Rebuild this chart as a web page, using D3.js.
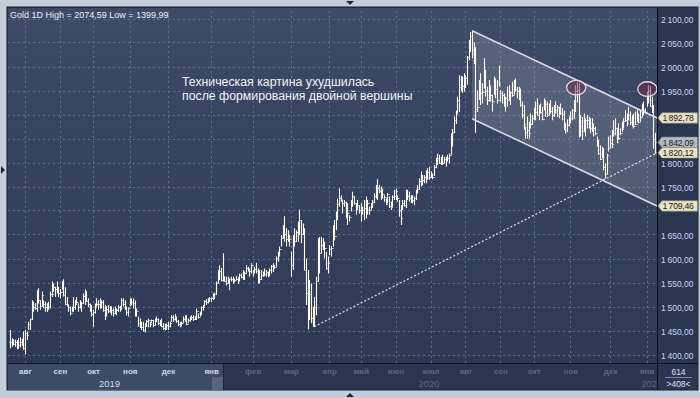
<!DOCTYPE html>
<html>
<head>
<meta charset="utf-8">
<script src="https://cdn.jsdelivr.net/npm/d3@7"></script>
<style>
  html, body { margin: 0; padding: 0; background: #c4cedb; }
  svg { display: block; }
  text { font-family: "Liberation Sans", Arial, sans-serif; }
</style>
</head>
<body>
<script>
// time axis: one entry per month, first one is the partial July 2019
const monthNames = ['июл', 'авг', 'сен', 'окт', 'ноя', 'дек', 'янв', 'фев', 'мар', 'апр',
  'май', 'июн', 'июл', 'авг', 'сен', 'окт', 'ноя', 'дек', 'янв'];
const monthYears = [2019, 2019, 2019, 2019, 2019, 2019, 2020, 2020, 2020, 2020,
  2020, 2020, 2020, 2020, 2020, 2020, 2020, 2020, 2021];
const monthBars = [9, 21, 20, 22, 23, 26, 25, 23, 23, 19, 21, 21, 21, 21, 20, 22, 24, 22, 6];

// daily bars, Gold 1D
const highs = [
  1451, 1434, 1432, 1431, 1430, 1434, 1436, 1433, 1448,
  1451, 1448, 1468, 1475, 1513, 1510, 1507, 1534, 1538, 1513, 1531, 1513, 1510, 1507, 1510, 1531, 1552, 1548, 1541, 1552, 1540,
  1536, 1552, 1557, 1540, 1520, 1503, 1500, 1500, 1520, 1513, 1520, 1506, 1513, 1510, 1527, 1536, 1531, 1517, 1506, 1503,
  1493, 1506, 1517, 1513, 1517, 1513, 1513, 1503, 1500, 1503, 1501, 1500, 1496, 1500, 1496, 1503, 1501, 1517, 1517, 1513, 1500, 1498,
  1517, 1517, 1517, 1513, 1496, 1479, 1475, 1468, 1468, 1465, 1472, 1475, 1468, 1473, 1472, 1475, 1479, 1475, 1472, 1475, 1465, 1464, 1465,
  1468, 1468, 1482, 1482, 1484, 1479, 1472, 1468, 1468, 1479, 1482, 1482, 1475, 1479, 1482, 1482, 1480, 1496, 1486, 1489, 1500, 1503, 1513, 1515, 1517, 1520,
  1519, 1527, 1529, 1552, 1576, 1586, 1580, 1611, 1563, 1562, 1562, 1559, 1562, 1562, 1559, 1564, 1561, 1569, 1569, 1576, 1573, 1586, 1583, 1579, 1590,
  1576, 1583, 1591, 1579, 1576, 1576, 1573, 1579, 1576, 1573, 1579, 1586, 1590, 1586, 1604, 1614, 1625, 1649, 1670, 1688, 1663, 1659, 1649,
  1614, 1649, 1663, 1659, 1677, 1702, 1680, 1673, 1663, 1600, 1576, 1555, 1548, 1500, 1520, 1562, 1642, 1645, 1645, 1642, 1635, 1614, 1604,
  1628, 1626, 1670, 1680, 1698, 1725, 1746, 1732, 1723, 1722, 1718, 1715, 1690, 1722, 1739, 1729, 1715, 1722, 1711,
  1715, 1708, 1722, 1729, 1722, 1708, 1715, 1722, 1736, 1753, 1765, 1753, 1750, 1746, 1732, 1725, 1736, 1729, 1718, 1732, 1743,
  1746, 1732, 1722, 1711, 1722, 1722, 1743, 1743, 1739, 1732, 1732, 1729, 1743, 1753, 1767, 1781, 1774, 1774, 1784, 1788, 1791,
  1781, 1777, 1795, 1810, 1818, 1816, 1812, 1816, 1812, 1812, 1816, 1819, 1861, 1870, 1896, 1908, 1937, 1982, 1980, 1979, 1986,
  1982, 2022, 2055, 2072, 2074.59, 2050, 2040, 1950, 1972, 1986, 1965, 2017, 1993, 1958, 1972, 1961, 1941, 1979, 1975, 1972, 2002,
  1951, 1948, 1944, 1937, 1958, 1961, 1948, 1968, 1972, 1975, 1958, 1958, 1954, 1927, 1920, 1875, 1896, 1885, 1902, 1899,
  1913, 1927, 1934, 1920, 1923, 1916, 1934, 1930, 1927, 1923, 1930, 1916, 1920, 1927, 1920, 1916, 1923, 1913, 1908, 1882, 1890, 1896,
  1906, 1911, 1930, 1961, 1966, 1965, 1899, 1895, 1902, 1892, 1899, 1895, 1892, 1892, 1882, 1875, 1854, 1847, 1836, 1833, 1830, 1798, 1818, 1854,
  1857, 1868, 1888, 1892, 1871, 1882, 1871, 1885, 1892, 1909, 1902, 1916, 1906, 1899, 1902, 1906, 1913, 1902, 1909, 1923, 1927, 1913,
  1948, 1961, 1959, 1937, 1920, 1862
];
const lows = [
  1413, 1416, 1420, 1416, 1411, 1413, 1415, 1418, 1410,
  1399.99, 1430, 1451, 1451, 1472, 1489, 1493, 1489, 1506, 1493, 1500, 1496, 1489, 1489, 1493, 1496, 1520, 1531, 1520, 1527, 1520,
  1517, 1535, 1521, 1503, 1500, 1489, 1482, 1489, 1489, 1493, 1503, 1489, 1496, 1489, 1506, 1503, 1510, 1499, 1489, 1479,
  1458, 1485, 1500, 1493, 1496, 1496, 1489, 1472, 1479, 1486, 1487, 1482, 1479, 1484, 1482, 1489, 1489, 1493, 1500, 1493, 1482, 1479,
  1500, 1503, 1496, 1479, 1479, 1458, 1455, 1451, 1448, 1446, 1458, 1457, 1457, 1465, 1457, 1461, 1468, 1461, 1459, 1457, 1451, 1450, 1451,
  1451, 1457, 1468, 1468, 1471, 1466, 1459, 1457, 1459, 1466, 1468, 1461, 1465, 1468, 1472, 1470, 1472, 1472, 1475, 1479, 1482, 1491, 1500, 1503, 1506, 1510,
  1510, 1513, 1515, 1524, 1548, 1555, 1552, 1552, 1552, 1544, 1548, 1534, 1552, 1548, 1550, 1555, 1547, 1552, 1559, 1555, 1555, 1569, 1573, 1562, 1569,
  1563, 1569, 1569, 1548, 1548, 1555, 1562, 1563, 1562, 1561, 1563, 1569, 1572, 1579, 1583, 1593, 1604, 1625, 1642, 1635, 1625, 1635, 1625,
  1562, 1576, 1625, 1635, 1635, 1649, 1632, 1649, 1576, 1503, 1452, 1472, 1465, 1458, 1458, 1482, 1552, 1569, 1611, 1618, 1600, 1576, 1569,
  1607, 1604, 1625, 1638, 1659, 1680, 1708, 1718, 1694, 1708, 1684, 1670, 1677, 1698, 1708, 1712, 1691, 1701, 1694,
  1677, 1691, 1680, 1684, 1691, 1691, 1701, 1705, 1715, 1725, 1722, 1736, 1722, 1725, 1718, 1711, 1715, 1705, 1701, 1708, 1722,
  1722, 1718, 1687, 1670, 1701, 1708, 1705, 1722, 1718, 1715, 1715, 1711, 1722, 1736, 1743, 1750, 1753, 1757, 1757, 1764, 1764,
  1768, 1765, 1772, 1788, 1795, 1798, 1795, 1795, 1798, 1791, 1802, 1798, 1816, 1833, 1861, 1880, 1902, 1905, 1948, 1945, 1948,
  1955, 1962, 2013, 2030, 2017, 2005, 1862, 1905, 1930, 1920, 1923, 1954, 1937, 1920, 1927, 1927, 1906, 1941, 1934, 1923, 1958,
  1927, 1923, 1916, 1906, 1916, 1930, 1920, 1937, 1941, 1948, 1934, 1930, 1916, 1892, 1868, 1850, 1850, 1850, 1871, 1878,
  1888, 1888, 1899, 1888, 1902, 1888, 1909, 1895, 1895, 1899, 1902, 1888, 1895, 1902, 1895, 1892, 1899, 1888, 1868, 1860, 1863, 1875,
  1882, 1888, 1890, 1905, 1925, 1852, 1854, 1847, 1864, 1854, 1871, 1871, 1861, 1864, 1854, 1857, 1833, 1816, 1805, 1809, 1784, 1766, 1776, 1823,
  1830, 1830, 1854, 1857, 1840, 1847, 1857, 1864, 1871, 1885, 1875, 1888, 1878, 1875, 1871, 1878, 1885, 1882, 1885, 1895, 1899, 1902,
  1916, 1923, 1916, 1903, 1828, 1818
];
const closes = [
  1426, 1424, 1422, 1427, 1414, 1419, 1427, 1430, 1413,
  1445, 1440, 1464, 1474, 1499, 1500, 1497, 1511, 1514, 1502, 1523, 1505, 1500, 1496, 1502, 1527, 1526, 1541, 1537, 1540, 1528,
  1530, 1548, 1525, 1506, 1506, 1499, 1486, 1497, 1498, 1506, 1510, 1498, 1505, 1508, 1522, 1532, 1512, 1505, 1497, 1485,
  1489, 1500, 1505, 1505, 1503, 1510, 1493, 1488, 1494, 1490, 1494, 1492, 1487, 1495, 1492, 1500, 1495, 1513, 1505, 1496, 1488, 1496,
  1513, 1510, 1508, 1483, 1490, 1466, 1460, 1457, 1452, 1461, 1469, 1472, 1463, 1471, 1461, 1470, 1473, 1465, 1462, 1460, 1455, 1458, 1462,
  1460, 1465, 1478, 1474, 1476, 1470, 1463, 1460, 1465, 1475, 1471, 1464, 1472, 1475, 1478, 1474, 1476, 1490, 1479, 1484, 1498, 1499, 1511, 1510, 1514, 1517,
  1517, 1524, 1527, 1549, 1568, 1574, 1556, 1556, 1554, 1550, 1552, 1557, 1558, 1553, 1556, 1558, 1555, 1565, 1562, 1570, 1570, 1580, 1577, 1575, 1587,
  1574, 1578, 1575, 1553, 1557, 1565, 1570, 1567, 1572, 1566, 1576, 1584, 1580, 1583, 1602, 1611, 1620, 1643, 1658, 1650, 1640, 1643, 1640,
  1586, 1640, 1637, 1655, 1672, 1680, 1650, 1660, 1577, 1529, 1515, 1527, 1477, 1471, 1498, 1553, 1609, 1611, 1629, 1620, 1622, 1580, 1591,
  1620, 1622, 1662, 1647, 1682, 1714, 1727, 1722, 1716, 1717, 1688, 1694, 1686, 1713, 1730, 1715, 1705, 1712, 1700,
  1700, 1702, 1705, 1708, 1715, 1702, 1710, 1718, 1731, 1742, 1747, 1740, 1745, 1734, 1728, 1714, 1734, 1710, 1708, 1728, 1730,
  1740, 1726, 1700, 1685, 1715, 1712, 1738, 1730, 1727, 1725, 1722, 1727, 1741, 1745, 1762, 1768, 1764, 1770, 1771, 1780, 1770,
  1775, 1770, 1790, 1800, 1810, 1800, 1808, 1799, 1808, 1806, 1810, 1815, 1842, 1864, 1889, 1902, 1930, 1958, 1970, 1960, 1975,
  1976, 2019, 2039, 2063, 2035, 2028, 1911, 1915, 1954, 1944, 1947, 2000, 1950, 1930, 1946, 1940, 1928, 1950, 1954, 1930, 1964,
  1945, 1940, 1930, 1934, 1930, 1947, 1946, 1940, 1956, 1954, 1950, 1944, 1920, 1900, 1880, 1863, 1868, 1862, 1880, 1892,
  1900, 1906, 1900, 1913, 1905, 1890, 1930, 1922, 1900, 1905, 1908, 1899, 1905, 1910, 1915, 1905, 1903, 1902, 1878, 1868, 1879, 1885,
  1893, 1909, 1920, 1949, 1951, 1862, 1877, 1866, 1873, 1888, 1888, 1880, 1871, 1866, 1871, 1862, 1837, 1820, 1808, 1812, 1790, 1776, 1815, 1830,
  1841, 1839, 1862, 1871, 1842, 1852, 1862, 1870, 1887, 1888, 1882, 1900, 1885, 1880, 1876, 1881, 1890, 1885, 1895, 1905, 1910, 1906,
  1943, 1950, 1918, 1913, 1849, 1842.09
];

const priceTicks = [1400, 1450, 1500, 1550, 1600, 1650, 1700, 1750, 1800, 1850, 1900, 1950, 2000, 2050, 2100];

// drawn objects (bar index, price)
const channelFrom = 278;
const channelUpper = [2074.59, 1892.78];   // at channelFrom, at right edge
const channelLower = [1891.27, 1709.46];
const trendFrom = 183;
const trendLine = [1458, 1820.12];
const lastPrice = 1842.09;
const topMarks = [[340.6, 1956], [383.4, 1953]];
const noteLines = ['Техническая картина ухудшилась', 'после формирования двойной вершины'];

const W = 700, H = 398;
const plot = { left: 8, right: 657, top: 8, bottom: 363 };
const axisBottomY = 390;
const splitX = 223.5;

const x = d3.scaleLinear().domain([0, highs.length - 1]).range([10, 655]);
const y = d3.scaleLinear().domain([1400, 2100]).range([354.5, 18.5]);
const edge = x.invert(plot.right);

const starts = [0, ...d3.cumsum(monthBars)].slice(0, monthBars.length);
const fmt = d3.formatLocale({ decimal: ',', thousands: '\u2009', grouping: [3], currency: ['', ''] }).format(',.2f');

const svg = d3.select('body').append('svg')
  .attr('width', W)
  .attr('height', H);

// little arrows on the window frame
svg.append('path').attr('d', 'M346,1L354,1L350,5Z').attr('fill', '#1d2535');
svg.append('path').attr('d', 'M346,397L354,397L350,393Z').attr('fill', '#1d2535');
svg.append('path').attr('d', 'M1,166L1,174L5,170Z').attr('fill', '#1d2535');

svg.append('rect')
  .attr('x', 7).attr('y', 7)
  .attr('width', 691).attr('height', axisBottomY - 7)
  .attr('fill', '#2a3550')
  .attr('stroke', '#1a2030');

const defs = svg.append('defs');
const grad = defs.append('linearGradient').attr('id', 'bg')
  .attr('x1', 0).attr('y1', 0).attr('x2', 0).attr('y2', 1);
grad.append('stop').attr('offset', '0%').attr('stop-color', '#3d4a68');
grad.append('stop').attr('offset', '100%').attr('stop-color', '#2d3955');

defs.append('clipPath').attr('id', 'plotClip').append('rect')
  .attr('x', plot.left).attr('y', plot.top)
  .attr('width', plot.right - plot.left).attr('height', plot.bottom - plot.top);
defs.append('clipPath').attr('id', 'axisClip').append('rect')
  .attr('x', plot.left).attr('y', plot.bottom)
  .attr('width', plot.right - plot.left).attr('height', axisBottomY - plot.bottom);

svg.append('rect')
  .attr('x', plot.left).attr('y', plot.top)
  .attr('width', plot.right - plot.left).attr('height', plot.bottom - plot.top)
  .attr('fill', 'url(#bg)');

const g = svg.append('g').attr('clip-path', 'url(#plotClip)');

// grid
const hGrid = g.append('g')
  .attr('transform', `translate(${plot.left},0)`)
  .call(d3.axisLeft(y).tickValues(priceTicks).tickSize(-(plot.right - plot.left)).tickFormat(''));
const vGrid = g.append('g')
  .attr('transform', `translate(0,${plot.bottom})`)
  .call(d3.axisBottom(x).tickValues(starts.slice(1)).tickSize(-(plot.bottom - plot.top)).tickFormat(''));
[hGrid, vGrid].forEach(a => {
  a.select('.domain').remove();
  a.selectAll('line')
    .attr('stroke', '#6879a0')
    .attr('stroke-opacity', 0.8)
    .attr('stroke-dasharray', '2,3')
    .attr('shape-rendering', 'crispEdges');
});
hGrid.selectAll('.tick').attr('transform', d => `translate(0,${Math.round(y(d)) + 0.5})`);
vGrid.selectAll('.tick').attr('transform', d => `translate(${Math.round(x(d)) + 0.5},0)`);

// falling channel
const chUp = [[x(channelFrom), y(channelUpper[0])], [x(edge), y(channelUpper[1])]];
const chLo = [[x(channelFrom), y(channelLower[0])], [x(edge), y(channelLower[1])]];
g.append('path')
  .attr('d', d3.line()([chUp[0], chUp[1], chLo[1], chLo[0]]) + 'Z')
  .attr('fill', '#ffffff')
  .attr('fill-opacity', 0.14);

// support line from the march low
g.append('path')
  .attr('d', d3.line()([[x(trendFrom), y(trendLine[0])], [x(edge), y(trendLine[1])]]))
  .attr('fill', 'none')
  .attr('stroke', '#dfe5ee')
  .attr('stroke-width', 1.2)
  .attr('stroke-dasharray', '2,2');

// bars
const bars = highs.map((h, i) => ({ i, h, l: lows[i], c: closes[i], o: i ? closes[i - 1] : closes[i] }));
g.selectAll('.bar')
  .data(bars)
  .join('path')
  .attr('class', 'bar')
  .attr('d', d => {
    const cx = Math.round(x(d.i)) + 0.5;
    return `M${cx},${y(d.h)}V${y(d.l)}M${cx - 1},${Math.round(y(d.o)) + 0.5}H${cx}M${cx},${Math.round(y(d.c)) + 0.5}H${cx + 1}`;
  })
  .attr('fill', 'none')
  .attr('stroke', '#fffaf4')
  .attr('stroke-width', 1.1);

// channel borders on top of bars
[chUp, chLo].forEach(pts => {
  g.append('path')
    .attr('d', d3.line()(pts))
    .attr('stroke', '#d9dbe0')
    .attr('stroke-width', 1.6)
    .attr('fill', 'none');
});

// double top marks
g.selectAll('.top')
  .data(topMarks)
  .join('ellipse')
  .attr('class', 'top')
  .attr('cx', d => x(d[0]))
  .attr('cy', d => y(d[1]))
  .attr('rx', 9.6)
  .attr('ry', 7.3)
  .attr('fill', '#6a2848')
  .attr('fill-opacity', 0.5)
  .attr('stroke', '#eed6de')
  .attr('stroke-width', 1.3);

// note
g.append('text')
  .attr('x', 182)
  .attr('y', 86)
  .attr('fill', '#f2f5fa')
  .style('font-size', '12.3px')
  .selectAll('tspan')
  .data(noteLines)
  .join('tspan')
  .attr('x', 182)
  .attr('dy', (d, i) => i ? 13.5 : 0)
  .text(d => d);

svg.append('text')
  .attr('x', 10)
  .attr('y', 18)
  .attr('fill', '#eef2fa')
  .style('font-size', '9px')
  .text('Gold 1D High = 2074,59 Low = 1399,99');

// price axis
svg.append('line')
  .attr('x1', plot.right + 0.5).attr('x2', plot.right + 0.5)
  .attr('y1', plot.top).attr('y2', axisBottomY)
  .attr('stroke', '#0c0f18');
svg.append('line')
  .attr('x1', plot.left).attr('x2', 698)
  .attr('y1', plot.bottom + 0.5).attr('y2', plot.bottom + 0.5)
  .attr('stroke', '#0c0f18');

// price tags at the right edge
const tags = [
  { v: channelUpper[1], fill: '#e7e3c3' },
  { v: lastPrice, fill: '#b3b8c2' },
  { v: trendLine[1], fill: '#e7e3c3' },
  { v: channelLower[1], fill: '#e7e3c3' }
];

// tick labels hidden behind a tag are left out
const visibleTicks = priceTicks.filter(t => tags.every(d => Math.abs(y(t) - y(d.v)) > 8.5));
const yAxis = svg.append('g')
  .attr('transform', `translate(${plot.right + 1},0)`)
  .call(d3.axisRight(y).tickValues(visibleTicks).tickSize(0).tickPadding(3).tickFormat(fmt));
yAxis.select('.domain').remove();
yAxis.selectAll('text')
  .attr('fill', '#c9d8f2')
  .style('font-size', '8.5px')
  .attr('dy', '0.45em');

const tag = svg.selectAll('.tag')
  .data(tags)
  .join('g')
  .attr('class', 'tag')
  .attr('transform', d => `translate(${plot.right + 1},${y(d.v)})`);
tag.append('path')
  .attr('d', 'M0,0L4,-5.2H39.5V5.2H4Z')
  .attr('fill', d => d.fill)
  .attr('stroke', '#8d8b78')
  .attr('stroke-width', 0.6);
tag.append('text')
  .attr('x', 4.5)
  .attr('y', 3.3)
  .attr('fill', '#1b1b1b')
  .style('font-size', '8.6px')
  .style('letter-spacing', '-0.2px')
  .text(d => fmt(d.v));

// time axis
svg.append('rect')
  .attr('x', plot.left).attr('y', plot.bottom + 1)
  .attr('width', splitX - plot.left).attr('height', axisBottomY - plot.bottom - 1)
  .attr('fill', '#3e4b68');
svg.append('rect')
  .attr('x', splitX - 11.5).attr('y', 377)
  .attr('width', 11.5).attr('height', axisBottomY - 377)
  .attr('fill', '#56647f');
svg.append('line')
  .attr('x1', splitX).attr('x2', splitX)
  .attr('y1', plot.bottom + 1).attr('y2', axisBottomY)
  .attr('stroke', '#1c2436');

const xg = svg.append('g').attr('clip-path', 'url(#axisClip)');
const xAxis = xg.append('g')
  .attr('transform', `translate(0,${plot.bottom + 1})`)
  .call(d3.axisBottom(x)
    .tickValues(starts.slice(1))
    .tickSize(0)
    .tickPadding(4.5)
    .tickFormat((d, i) => monthNames[i + 1]));
xAxis.select('.domain').remove();
xAxis.selectAll('text')
  .attr('fill', d => x(d) < splitX ? '#cdd7ea' : '#5a6884')
  .style('font-size', '8px')
  .style('font-weight', 'bold');

const years = Array.from(new Set(monthYears));
const yearSpans = years.map(yr => {
  const first = monthYears.indexOf(yr);
  const last = monthYears.lastIndexOf(yr);
  const a = first === 0 ? plot.left : x(starts[first]);
  const b = last === monthYears.length - 1 ? plot.right : x(starts[last + 1]);
  return { yr, mid: (a + b) / 2 };
});
xg.selectAll('.year')
  .data(yearSpans)
  .join('text')
  .attr('class', 'year')
  .attr('x', d => d.mid)
  .attr('y', 386.5)
  .attr('text-anchor', 'middle')
  .attr('fill', d => d.mid < splitX ? '#d5def0' : '#5a6884')
  .style('font-size', '9.5px')
  .text(d => d.yr);

// bar counter box
svg.append('text')
  .attr('x', 678.5).attr('y', 374.5)
  .attr('text-anchor', 'middle')
  .attr('fill', '#dbe5f7')
  .style('font-size', '8.5px')
  .text('614');
svg.append('line')
  .attr('x1', 665).attr('x2', 692)
  .attr('y1', 377.5).attr('y2', 377.5)
  .attr('stroke', '#7d8aa6');
svg.append('text')
  .attr('x', 678.5).attr('y', 387)
  .attr('text-anchor', 'middle')
  .attr('fill', '#dbe5f7')
  .style('font-size', '8.5px')
  .text('>408<');
</script>
</body>
</html>
